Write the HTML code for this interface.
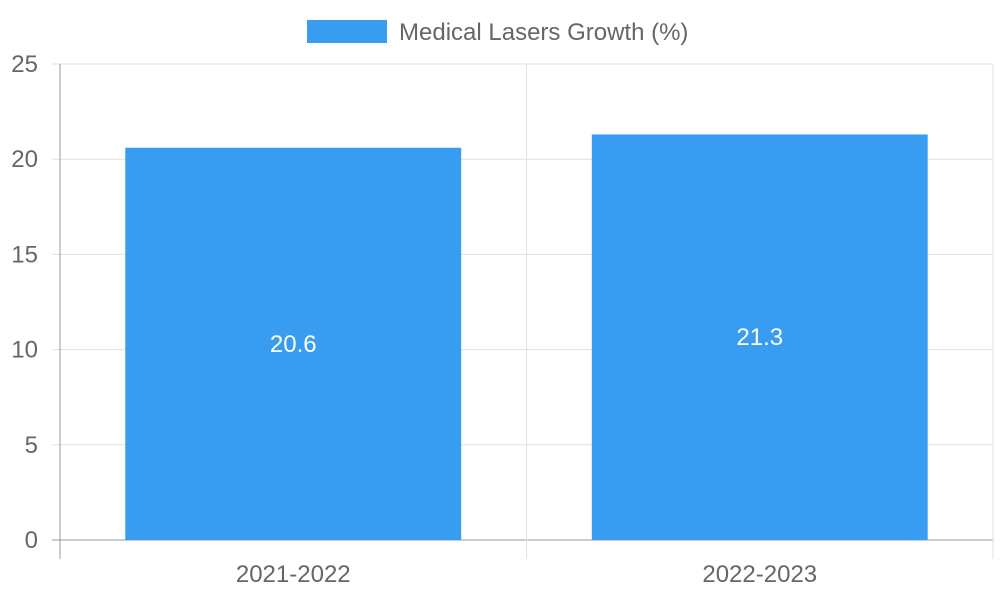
<!DOCTYPE html>
<html><head><meta charset="utf-8"><style>
html,body{margin:0;padding:0;background:#fff;}
svg{display:block;font-family:"Liberation Sans",sans-serif;}
</style></head><body>
<svg id="chart" width="1000" height="600">
<g id="legend">
<rect x="307" y="20" width="80" height="23" fill="#389cf0"></rect>
<text x="399" y="40" font-size="24" fill="#666">Medical Lasers Growth (%)</text>
</g>
<g id="grid"></g><g id="bars"></g><g id="labels"></g>
</svg>
<script>
const categories = ["2021-2022", "2022-2023"];
const values = [20.6, 21.3];
const yTicks = [0, 5, 10, 15, 20, 25];
const NS = "http://www.w3.org/2000/svg";
const L = 60, R = 993, T = 64, B = 540, yMax = 25;
const y = v => B - (v / yMax) * (B - T);
const band = (R - L) / categories.length;
const x = i => L + band * i;
function mk(tag, attrs, parent) {
  const e = document.createElementNS(NS, tag);
  for (const k in attrs) e.setAttribute(k, attrs[k]);
  parent.appendChild(e); return e;
}
const grid = document.getElementById('grid'), bars = document.getElementById('bars'), labels = document.getElementById('labels');
yTicks.forEach(t => {
  const ln = mk('line', {x1: L - 8, x2: R, y1: y(t), y2: y(t), stroke: t === 0 ? '#999' : '#e0e0e0', 'stroke-width': 1}, grid);
  
  
  const tx = mk('text', {x: 38, y: y(t) + 8, 'text-anchor': 'end', 'font-size': 24, fill: '#666'}, grid);
  tx.textContent = t;
  
  
});
for (let i = 0; i <= categories.length; i++) {
  const ln = mk('line', {x1: x(i), x2: x(i), y1: T, y2: B + 19, stroke: i === 0 ? '#999' : '#e0e0e0', 'stroke-width': 1}, grid);
  
  
}
categories.forEach((c, i) => {
  const bw = band * 0.72, bx = x(i) + (band - bw) / 2;
  const r = mk('rect', {x: bx, y: y(values[i]), width: bw, height: B - y(values[i]), fill: '#389cf0'}, bars);
  
  
  const v = mk('text', {x: bx + bw / 2, y: (y(values[i]) + B) / 2 + 8, 'text-anchor': 'middle', 'font-size': 24, fill: '#fff'}, labels);
  v.textContent = values[i];
  
  
  const xl = mk('text', {x: x(i) + band / 2, y: 582, 'text-anchor': 'middle', 'font-size': 24, fill: '#666'}, labels);
  xl.textContent = c;
  
  
});
</script>
</body></html>
